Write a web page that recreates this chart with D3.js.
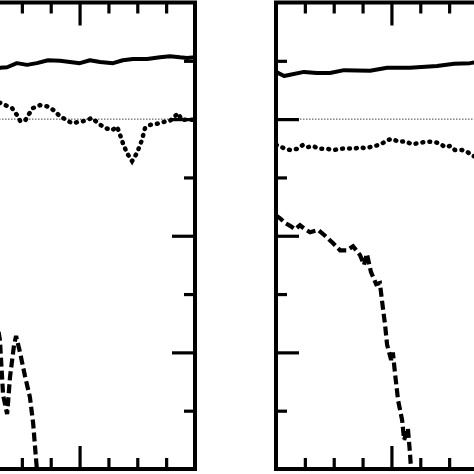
<!DOCTYPE html>
<html>
<head>
<meta charset="utf-8">
<script src="https://cdn.jsdelivr.net/npm/d3@7"></script>
<style>
  html, body { margin: 0; padding: 0; background: #fff; }
  svg { display: block; }
</style>
</head>
<body>
<svg id="chart"></svg>
<script>
// x ticks (same for both panels), y ticks (shared)
var xMinorTicks = [10, 20, 30, 40, 50, 60];
var yShortTicks = [-5, -3, -1, 1];
var yLongTicks = [-4, -2, 0];
var refLevel = 0;

// left panel series [x, y]
var leftSolid = [[0, 0.84], [2.4, 0.88], [4.9, 0.89], [8.3, 0.96], [11.8, 0.93], [15.2, 0.96], [19.1, 1.01],
  [23.2, 1.0], [30.1, 0.96], [33.6, 1.01], [37.1, 0.98], [41.6, 0.96], [45, 1.01], [48.5, 1.03], [53.4, 1.03],
  [57.9, 1.06], [61.3, 1.08], [64.8, 1.06], [67.2, 1.05], [70, 1.06]];
var leftDotted = [[0, 0.33], [2.4, 0.28], [4.2, 0.24], [6.6, 0.19], [8.3, 0.07], [9.4, -0.03], [11.1, -0.03],
  [12.5, 0.09], [13.9, 0.19], [16.3, 0.24], [18.7, 0.22], [20.8, 0.16], [23.2, 0.05], [25.6, -0.02], [27.4, -0.07],
  [29.5, -0.05], [31.9, -0.03], [34.3, 0.02], [36.4, -0.07], [38.8, -0.15], [41.2, -0.19], [43, -0.13], [43.7, -0.22],
  [45, -0.41], [46.4, -0.58], [48.2, -0.72], [49.9, -0.58], [51.6, -0.36], [52.7, -0.15], [54.4, -0.1], [56.8, -0.08],
  [58.9, -0.05], [61.3, -0.03], [64.1, 0.1], [65.5, -0.02], [67.6, 0.0], [70, -0.02]];
var leftDashed = [[0, -3.45], [1.7, -3.58], [2.4, -3.79], [3.5, -4.73], [4.9, -5.06], [5.9, -4.42], [7.3, -3.87],
  [8.0, -3.72], [9.4, -4.01], [11.1, -4.41], [12.8, -4.77], [13.9, -5.21], [14.6, -5.64], [15.2, -6.0], [15.6, -6.2]];

// right panel series [x, y]
var rightSolid = [[0, 0.81], [2.8, 0.74], [4.9, 0.76], [9.7, 0.81], [14.2, 0.79], [18.7, 0.79], [23.6, 0.84],
  [32.6, 0.83], [38.5, 0.88], [46.4, 0.88], [55.8, 0.91], [61.7, 0.95], [67.2, 0.96], [70, 0.98]];
var rightDotted = [[0, -0.44], [1, -0.46], [2.8, -0.5], [4.9, -0.53], [7.3, -0.51], [9.4, -0.44], [11.1, -0.48],
  [12.8, -0.46], [14.9, -0.51], [17.7, -0.51], [20.1, -0.53], [22.2, -0.51], [24.6, -0.5], [27, -0.51], [29.1, -0.48],
  [30.8, -0.5], [32.6, -0.48], [34.3, -0.46], [36.4, -0.43], [38.5, -0.36], [40.2, -0.34], [42.6, -0.39], [44.7, -0.38],
  [47.1, -0.43], [49.6, -0.41], [51.6, -0.39], [54.1, -0.39], [56.5, -0.41], [58.6, -0.48], [60.3, -0.46], [62, -0.53],
  [64.5, -0.53], [66.2, -0.56], [67.9, -0.62], [70, -0.67]];
var rightDashed = [[0, -1.65], [1.4, -1.7], [3.1, -1.78], [4.9, -1.83], [6.6, -1.89], [8.3, -1.82], [10.1, -1.89],
  [11.8, -1.94], [14.6, -1.9], [17, -2.0], [19.8, -2.13], [22.2, -2.25], [24.6, -2.25], [26.7, -2.18], [29.1, -2.33],
  [30.5, -2.5], [31.5, -2.31], [32.9, -2.62], [34.7, -2.83], [36, -2.81], [36.7, -3.1], [37.8, -3.53], [38.5, -3.87],
  [39.9, -4.13], [40.5, -4.0], [41.2, -4.34], [42.3, -4.82], [43.7, -5.16], [44.4, -5.5], [45.7, -5.3], [46.4, -5.71],
  [46.8, -6.0], [47.1, -6.2]];

var W = 474, H = 474;
var top_ = 2.5, bottom_ = 469;
var shortT = 11, longT = 23;

var svg = d3.select("#chart").attr("width", W).attr("height", H);

var y = d3.scaleLinear().domain([-6, 2]).range([bottom_, top_]);

var panels = [
  { id: "L", x0: -7, x1: 195, major: 30, side: "right", solid: leftSolid, dotted: leftDotted, dashed: leftDashed },
  { id: "R", x0: 276, x1: 478, major: 40, side: "left", solid: rightSolid, dotted: rightDotted, dashed: rightDashed }
];

panels.forEach(function (p) {
  var x = d3.scaleLinear().domain([0, 70]).range([p.x0, p.x1]);
  var g = svg.append("g");

  g.append("clipPath").attr("id", "clip" + p.id)
    .append("rect")
    .attr("x", p.x0).attr("y", top_)
    .attr("width", p.x1 - p.x0).attr("height", bottom_ - top_);

  var plot = g.append("g").attr("clip-path", "url(#clip" + p.id + ")");

  // reference line
  plot.append("line")
    .attr("x1", p.x0).attr("x2", p.x1)
    .attr("y1", y(refLevel)).attr("y2", y(refLevel))
    .attr("stroke", "#444").attr("stroke-width", 1)
    .attr("stroke-dasharray", "1.5,1.5");

  var line = d3.line()
    .x(function (d) { return x(d[0]); })
    .y(function (d) { return y(d[1]); });

  plot.append("path").datum(p.solid)
    .attr("d", line).attr("fill", "none")
    .attr("stroke", "#000").attr("stroke-width", 4)
    .attr("stroke-linejoin", "round");

  plot.append("path").datum(p.dotted)
    .attr("d", line).attr("fill", "none")
    .attr("stroke", "#000").attr("stroke-width", 4.5)
    .attr("stroke-linecap", "round")
    .attr("stroke-dasharray", "0.8,6.2");

  plot.append("path").datum(p.dashed)
    .attr("d", line).attr("fill", "none")
    .attr("stroke", "#000").attr("stroke-width", 4.2)
    .attr("stroke-dasharray", "9,4");

  // ticks, all pointing inward
  var minor = xMinorTicks.filter(function (t) { return t !== p.major; });
  function tickAxis(axis, size, vals, tx, ty) {
    var a = g.append("g")
      .attr("transform", "translate(" + tx + "," + ty + ")")
      .call(axis.tickValues(vals).tickSize(-size).tickFormat(""));
    a.select(".domain").remove();
    a.selectAll(".tick line").attr("stroke", "#000").attr("stroke-width", 3.2);
  }
  tickAxis(d3.axisTop(x), shortT, minor, 0, top_);
  tickAxis(d3.axisTop(x), longT, [p.major], 0, top_);
  tickAxis(d3.axisBottom(x), shortT, minor, 0, bottom_);
  tickAxis(d3.axisBottom(x), longT, [p.major], 0, bottom_);

  if (p.side === "right") {
    tickAxis(d3.axisRight(y), shortT, yShortTicks, p.x1, 0);
    tickAxis(d3.axisRight(y), longT, yLongTicks, p.x1, 0);
  } else {
    tickAxis(d3.axisLeft(y), shortT, yShortTicks, p.x0, 0);
    tickAxis(d3.axisLeft(y), longT, yLongTicks, p.x0, 0);
  }

  // frame
  g.append("rect")
    .attr("x", p.x0).attr("y", top_)
    .attr("width", p.x1 - p.x0).attr("height", bottom_ - top_)
    .attr("fill", "none").attr("stroke", "#000").attr("stroke-width", 4);
});
</script>
</body>
</html>
